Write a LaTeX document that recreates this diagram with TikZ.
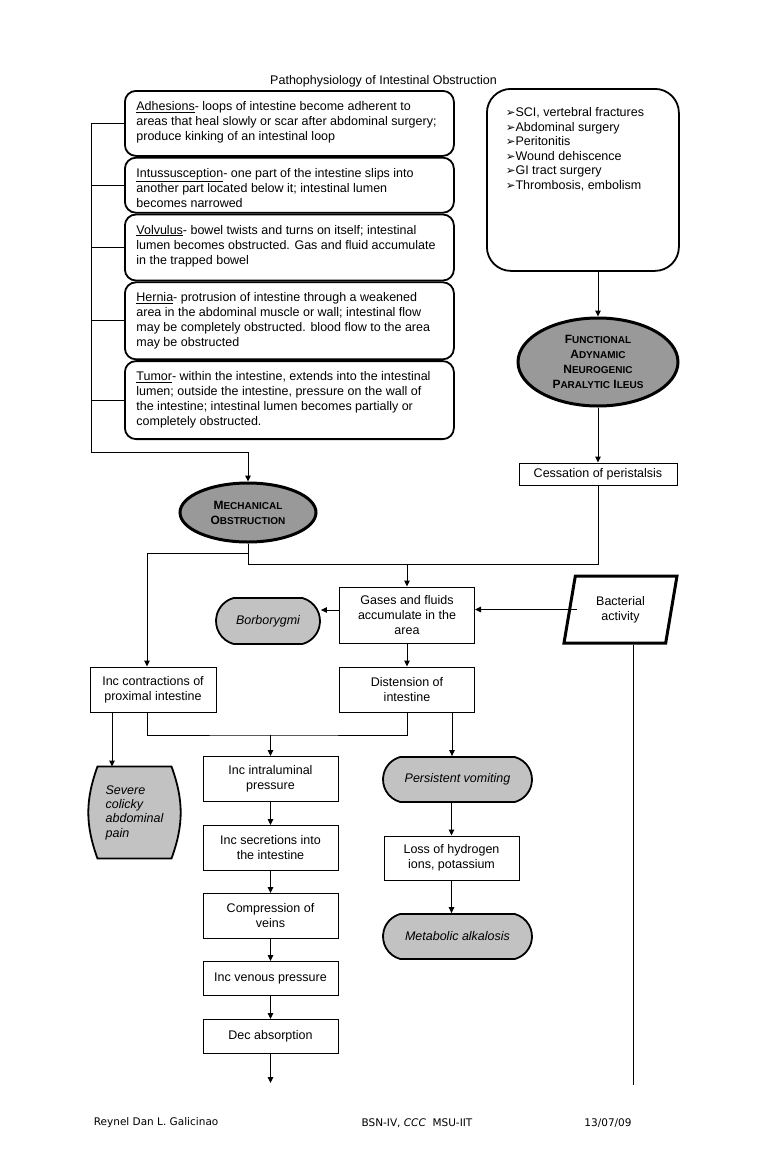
\documentclass[tikz,border=0pt]{standalone}
\usepackage{fontspec}
\setmainfont{Liberation Sans}
\newfontfamily\symfont{DejaVu Sans}
\newfontfamily\footfont{DejaVu Sans}
\usetikzlibrary{positioning,calc,arrows.meta,shapes.geometric,shapes.misc,backgrounds}

\definecolor{ovalgray}{gray}{0.6}
\definecolor{capgray}{gray}{0.76}
\newcommand{\boxfont}{\fontsize{12.5}{15}\selectfont}
\newcommand{\lowcap}[1]{{\fontsize{10}{11}\selectfont #1}}
\newcommand{\bul}{{\symfont\fontsize{11.5}{11}\selectfont ➢}}
\newcommand{\toptext}[4]{\parbox[c][#1][t]{#2}{\rule{0pt}{#3}#4}}

\begin{document}
\begin{tikzpicture}[
        x=1pt, y=-1pt,
        >={Triangle[length=6pt,width=5.5pt]},
        line width=1pt,
        causebox/.style={draw, line width=1.8pt, rounded corners=11pt, anchor=north west, inner xsep=11.5pt, inner ysep=0pt, font=\boxfont},
        flowbox/.style={draw, line width=1pt, align=center, minimum width=135pt, minimum height=45pt, inner sep=1pt, font=\boxfont},
        oval/.style={ellipse, draw, line width=3pt, fill=ovalgray, inner sep=0pt, align=center, font=\fontsize{12}{15}\selectfont\bfseries},
        capsule/.style={rounded rectangle, rounded rectangle arc length=150, draw, line width=1.8pt, fill=capgray, inner sep=0pt, minimum width=149pt, minimum height=45pt, font=\boxfont\itshape},
        footer/.style={font=\footfont\fontsize{10.5}{12}\selectfont}
      ]

      \useasboundingbox (0,0) rectangle (768,1175);

      \node (title) at (383.5,81) [font=\boxfont] {Pathophysiology of Intestinal Obstruction};

      % mechanical causes
      \node (adh) at (124,90) [causebox] {\toptext{65pt}{306pt}{19.5pt}{\underline{Adhesions}- loops of intestine become adherent to\\ areas that heal slowly or scar after abdominal surgery;\\ produce kinking of an intestinal loop}};
      \node (intus) [causebox, below=0pt of adh] {\toptext{55pt}{306pt}{19.5pt}{\underline{Intussusception}- one part of the intestine slips into\\ another part located below it; intestinal lumen\\ becomes narrowed}};
      \node (volv) [causebox, below=0pt of intus] {\toptext{66pt}{306pt}{19.5pt}{\underline{Volvulus}- bowel twists and turns on itself; intestinal\\ lumen becomes obstructed. Gas and fluid accumulate\\ in the trapped bowel}};
      \node (hern) [causebox, below=0pt of volv] {\toptext{77pt}{306pt}{19.5pt}{\underline{Hernia}- protrusion of intestine through a weakened\\ area in the abdominal muscle or wall; intestinal flow\\ may be completely obstructed. blood flow to the area\\ may be obstructed}};
      \node (tumor) [causebox, below=0pt of hern] {\toptext{78pt}{306pt}{19.5pt}{\underline{Tumor}- within the intestine, extends into the intestinal\\ lumen; outside the intestine, pressure on the wall of\\ the intestine; intestinal lumen becomes partially or\\ completely obstructed.}};

      % functional causes
      \node (causes) at (486,88) [draw, line width=1.8pt, rounded corners=24pt, anchor=north west, inner xsep=19pt, inner ysep=0pt, font=\fontsize{12.5}{14.6}\selectfont] {\toptext{182pt}{154pt}{27.5pt}{\bul SCI, vertebral fractures\\ \bul Abdominal surgery\\ \bul Peritonitis\\ \bul Wound dehiscence\\ \bul GI tract surgery\\ \bul Thrombosis, embolism}};

      \node (mech) at (248,512.5) [oval, minimum width=136pt, minimum height=59pt] {M\lowcap{ECHANICAL}\\ O\lowcap{BSTRUCTION}};
      \node (func) at (598,362) [oval, minimum width=160pt, minimum height=88pt] {F\lowcap{UNCTIONAL}\\ A\lowcap{DYNAMIC}\\ N\lowcap{EUROGENIC}\\ P\lowcap{ARALYTIC} I\lowcap{LEUS}};
      \node (cess) at (598,474) [draw, minimum width=158pt, minimum height=22pt, inner sep=0pt, font=\boxfont] {Cessation of peristalsis};

      \node (gases) at (407,615) [flowbox, minimum height=56pt] {Gases and fluids\\ accumulate in the\\ area};
      \node (borbo) at (268,621) [capsule, minimum width=104pt, minimum height=46pt] {Borborygmi};
      \node (bact) at (620.5,609.5) [trapezium, trapezium left angle=67, trapezium right angle=113, trapezium stretches body, draw, line width=3pt, minimum width=113pt, minimum height=67pt, inner sep=0pt, align=center, font=\boxfont] {Bacterial\\ activity};
      \node (dist) at (407,689.5) [flowbox] {Distension of\\ intestine};
      \node (inccon) at (153,689.5) [flowbox, minimum width=126pt] {Inc contractions of\\ proximal intestine};

      \node (severe) at (134.5,812.5) [minimum width=91pt, minimum height=91pt, inner sep=0pt, align=left, font=\fontsize{12.5}{14.3}\selectfont\itshape] {Severe\\ colicky\\ abdominal\\ pain};
      \begin{scope}[on background layer]
        \draw[line width=1.8pt, fill=capgray] ([xshift=9pt]severe.north west) to[bend right=20] ([xshift=9pt]severe.south west)
          -- ([xshift=-9pt]severe.south east) to[bend right=20] ([xshift=-9pt]severe.north east) -- cycle;
      \end{scope}
      \node (intra) at (270.5,779) [flowbox] {Inc intraluminal\\ pressure};
      \node (secr) [flowbox, below=23pt of intra] {Inc secretions into\\ the intestine};
      \node (comp) [flowbox, below=22pt of secr] {Compression of\\ veins};
      \node (venous) [flowbox, minimum height=34pt, below=22pt of comp] {Inc venous pressure};
      \node (dec) [flowbox, minimum height=34pt, below=23pt of venous] {Dec absorption};

      \node (vomit) at (457.5,779.5) [capsule] {Persistent vomiting};
      \node (loss) at (451.5,858) [flowbox, minimum height=44pt] {Loss of hydrogen\\ ions, potassium};
      \node (meta) at (457.5,936.5) [capsule] {Metabolic alkalosis};

      \node (author) at (90,1123) [footer, anchor=west] {Reynel Dan L. Galicinao};
      \node (course) at (417,1123) [footer] {BSN-IV, {\itshape CCC}\ \ MSU-IIT};
      \node (date) at (608,1123) [footer] {13/07/09};

      \coordinate (bl) at (91,452);
      \coordinate (jl) at (248,553);
      \coordinate (jm) at (248,564);
      \coordinate (jb) at (270.5,735);
      \coordinate (stop) at (270.5,1083);
      \coordinate (tail) at (633,1085);

      \draw[->] (adh.west) -| (bl) -| (mech.north);
      \foreach \b in {intus,volv,hern,tumor}
        \draw (\b.west) -- (\b.west -| bl);

      \draw[->] (func.north |- causes.south) -- (func.north);
      \draw[->] (func.south) -- (cess.north);
      \draw (mech.south) -- (jm);
      \draw (cess.south) |- (jm);
      \draw[->] (jl) -| ([xshift=-6pt]inccon.north);
      \draw[->] (jm -| gases.north) -- (gases.north);
      \draw[->] ([yshift=5pt]gases.west) -- ([yshift=5pt]gases.west -| borbo.east);
      \draw[->] ([xshift=9pt]bact.west) -- (bact.west -| gases.east);
      \draw (tail |- bact.south) -- (tail);

      \draw ([xshift=-6pt]inccon.south) |- (jb) -| (dist.south);
      \draw[->] ([xshift=-41pt]inccon.south) -- ([xshift=-41pt]inccon.south |- severe.north);
      \draw[->] ([xshift=45pt]dist.south) -- ([xshift=45pt]dist.south |- vomit.north);

      \path[->]
        (gases) edge (dist)
        (jb) edge (intra.north)
        (intra) edge (secr)
        (secr) edge (comp)
        (comp) edge (venous)
        (venous) edge (dec)
        (dec.south) edge (stop)
        (loss.north |- vomit.south) edge (loss.north)
        (loss.south) edge (loss.south |- meta.north);
    \end{tikzpicture}
\end{document}
